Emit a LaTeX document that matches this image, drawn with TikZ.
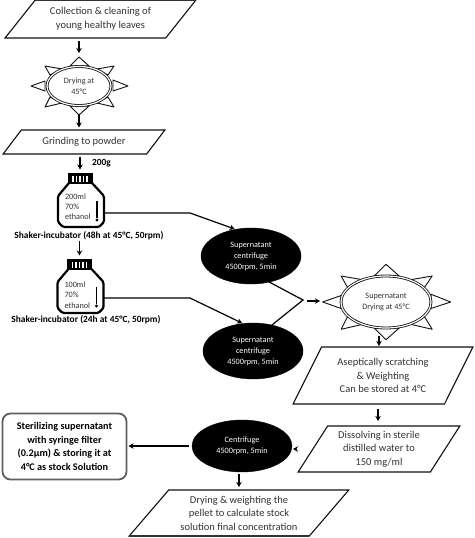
\documentclass[tikz,border=0pt]{standalone}
\usepackage{fontspec}
\setmainfont{Carlito}
\usetikzlibrary{shapes.geometric,arrows.meta,calc}
\definecolor{inkc}{HTML}{111111}
\definecolor{softc}{HTML}{333333}
\tikzset{
 x=1pt,y=-1pt,
 para/.style={draw=inkc,line width=1.1pt,trapezium,trapezium stretches=true,inner sep=0pt,outer sep=0pt,align=center,text=softc,font=\fontsize{10.5}{13.5}\selectfont},
 blob/.style={ellipse,fill=black,draw=black,inner sep=0pt,outer sep=0pt,align=center,text=white,font=\fontsize{8.2}{11}\selectfont},
 sunbody/.style={ellipse,draw=inkc,line width=0.8pt,double=white,double distance=1.2pt,inner sep=0pt,outer sep=0pt,align=center,text=softc,font=\fontsize{8.2}{11}\selectfont},
 ray/.style={draw=inkc,fill=white,line width=0.9pt,line join=round},
 arr/.style={draw=black,line width=1.2pt,-{Stealth[length=5pt,width=5.5pt]}},
 conn/.style={draw=black,line width=1.2pt},
 boldlab/.style={inner sep=0pt,outer sep=0pt,text=black,font=\bfseries\fontsize{9.4}{11}\selectfont},
 vial/.style={inner sep=0pt,outer sep=0pt,anchor=west,align=left,text=softc,font=\fontsize{8.2}{10.2}\selectfont},
}
\newcommand{\sunrays}[4]{%
 \begin{scope}[shift={(#1,#2)},xscale=#3,yscale=#4]
 \draw[ray] (-9,-20) -- (0,-29) -- (10,-20) -- cycle;
 \draw[ray] (-29,-11) -- (-34,-20) -- (-17,-17) -- cycle;
 \draw[ray] (18,-17) -- (35,-20) -- (29,-11) -- cycle;
 \draw[ray] (-34,-5) -- (-48,0) -- (-34,5) -- cycle;
 \draw[ray] (34,-6) -- (49,0) -- (34,5) -- cycle;
 \draw[ray] (-34,21) -- (-29,11) -- (-17,17) -- cycle;
 \draw[ray] (18,17) -- (29,11) -- (35,21) -- cycle;
 \draw[ray] (-9,20) -- (0,29) -- (10,20) -- cycle;
 \end{scope}}
\newcommand{\bottle}[3]{%
 \begin{scope}[shift={(#2,#3)}]
 \node[inner sep=0pt,outer sep=0pt,minimum width=46pt,minimum height=44pt] (#1) at (81,205) {};
 \draw[black,line width=2.2pt,rounded corners=1.5pt] (69,183) -- (58,196) -- (58,222) -- (63,227) -- (99,227) -- (104,222) -- (104,196) -- (92,183);
 \node[fill=black,draw=none,inner sep=0pt,outer sep=0pt,minimum width=25pt,minimum height=11pt] (#1cap) at (80,178.5) {};
 \foreach \sx in {72,75.5,79,82.5,86}{\fill[white] (\sx,175.5) rectangle ++(1.6,6);}
 \draw[black,line width=1.1pt] (97,201) -- (97,218);
 \fill[black] (97,220) circle (1.6);
 \end{scope}}
\begin{document}
\begin{tikzpicture}
\useasboundingbox (0,0) rectangle (474,538);
\fill[white] (0,0) rectangle (474,538);
% process steps
\node[para,trapezium left angle=44,trapezium right angle=136,minimum width=191pt,minimum height=38pt] (p1) at (100.5,19) {Collection \& cleaning of\\young healthy leaves};
\node[para,trapezium left angle=37,trapezium right angle=143,minimum width=162pt,minimum height=24pt] (p2) at (84,142) {Grinding to powder};
\node[para,trapezium left angle=58.5,trapezium right angle=121.5,minimum width=180pt,minimum height=57pt] (p3) at (383,375.5) {Aseptically scratching\\\& Weighting\\Can be stored at 4°C};
\node[para,trapezium left angle=57,trapezium right angle=123,minimum width=162pt,minimum height=46pt] (p4) at (379,449) {Dissolving in sterile\\distilled water to\\150 mg/ml};
\node[para,trapezium left angle=46.3,trapezium right angle=133.7,minimum width=220pt,minimum height=46pt] (p5) at (239,513) {Drying \& weighting the\\pellet to calculate stock\\solution final concentration};
\draw[softc,line width=2pt] (p1.top left corner) -- (p1.top right corner);
\draw[softc,line width=2pt] (p5.bottom left corner) -- (p5.bottom right corner);
% suns
\sunrays{79}{86}{1}{1}
\node[sunbody,minimum width=64pt,minimum height=39pt] (sun1) at (79,86) {Drying at\\45°C};
\sunrays{386}{302}{1.32}{1.3}
\node[sunbody,minimum width=90pt,minimum height=52pt] (sun2) at (386,302) {Supernatant\\Drying at 45°C};
\coordinate (sun2tip) at (324,301);
% bottles
\bottle{b1}{0}{0}
\node[vial] (b1txt) at (65,206.5) {200ml\\70\%\\ethanol};
\node[boldlab] (s1) at (89,236) {Shaker-incubator (48h at 45°C, 50rpm)};
\bottle{b2}{-0.5}{86}
\node[vial] (b2txt) at (64.5,295) {100ml\\70\%\\ethanol};
\node[boldlab] (s2) at (86,320) {Shaker-incubator (24h at 45°C, 50rpm)};
\node[boldlab] (amount) at (101.5,163.5) {200g};
% centrifuges
\node[blob,minimum width=100pt,minimum height=56pt] (e1) at (251,256) {Supernatant\\centrifuge\\4500rpm, 5min};
\node[blob,minimum width=100pt,minimum height=56pt] (e2) at (253,351) {Supernatant\\centrifuge\\4500rpm, 5min};
\node[blob,minimum width=100pt,minimum height=52pt] (e3) at (242,446) {Centrifuge\\4500rpm, 5min};
% stock box
\node[draw=gray!75!black,line width=1.8pt,rounded corners=8pt,minimum width=124pt,minimum height=66pt,inner sep=0pt,outer sep=0pt,align=center,text=black,font=\bfseries\fontsize{10.2}{13.5}\selectfont] (box) at (64.5,446.5) {Sterilizing supernatant\\with syringe filter\\(0.2µm) \& storing it at\\4°C as stock Solution};
% connectors
\coordinate (k1) at (190,213);
\coordinate (k2) at (190,298);
\coordinate (j) at (303,300);
\draw[arr,shorten <=3pt,shorten >=13.5pt] (sun1.north |- p1.south) -- (sun1.north);
\draw[arr,shorten <=8pt,shorten >=2.5pt] (sun1.south) -- (sun1.south |- p2.north);
\draw[arr,shorten <=2.5pt,shorten >=3.5pt] (b1cap.north |- p2.south) -- (b1cap.north);
\draw[arr,shorten <=1pt,shorten >=3.5pt] (b2cap.north |- s1.south) -- (b2cap.north);
\draw[arr,shorten >=1pt] (b1.east |- k1) -- (k1) -- (e1.120);
\draw[arr,shorten >=1pt] (b2.east |- k2) -- (k2) -- (e2.110);
\draw[conn,line cap=round] (e1.-55) -- (j) -- (e2.54);
\draw[arr,shorten <=4pt,shorten >=4pt] (j |- sun2tip) -- (sun2tip);
\draw[arr,shorten <=8pt,shorten >=1pt] (sun2.south -| 379,0) -- (p3.north -| 379,0);
\draw[arr,shorten <=5pt,shorten >=5pt] (378,404) -- (378,426);
\draw[arr,shorten <=18pt,shorten >=1pt] (p4.west |- 0,449) -- (e3.east |- 0,449);
\draw[arr,shorten <=3pt,shorten >=2pt] (e3.west) -- (box.east |- e3.west);
\draw[arr,shorten <=2pt,shorten >=3pt] (e3.south -| 239,0) -- (p5.north -| 239,0);
\end{tikzpicture}
\end{document}
